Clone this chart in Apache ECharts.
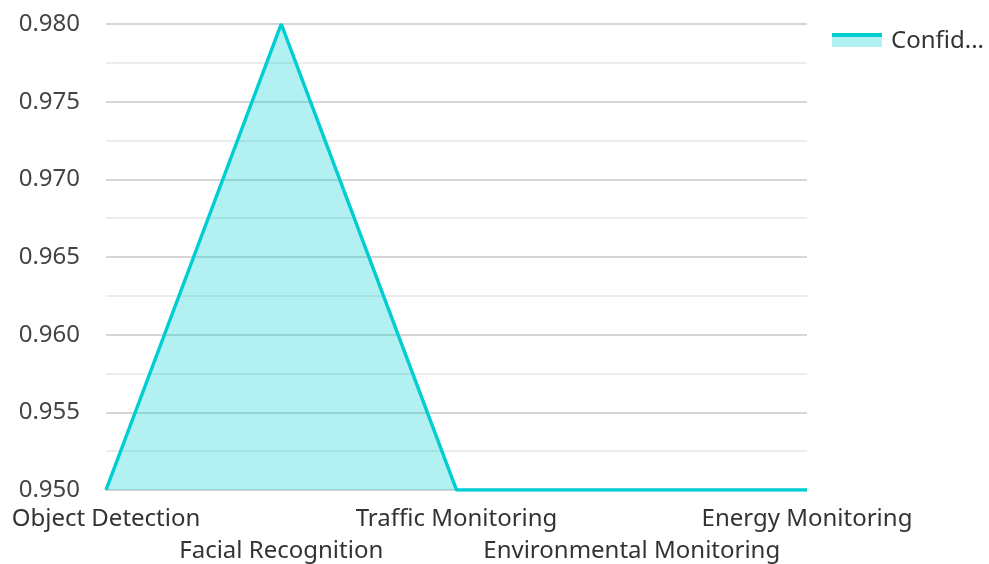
<!DOCTYPE html>
<html>
<head>
<meta charset="utf-8">
<script src="https://cdn.jsdelivr.net/npm/echarts@6/dist/echarts.min.js"></script>
<style>html,body{margin:0;padding:0;background:#fff}#c{width:989px;height:564px}</style>
</head>
<body>
<div id="c"></div>
<script>
const categories = ['Object Detection', 'Facial Recognition', 'Traffic Monitoring', 'Environmental Monitoring', 'Energy Monitoring'];
const seriesName = 'Confidence Score';
const values = [0.95, 0.98, 0.95, 0.95, 0.95];
const yTicks = { min: 0.95, max: 0.98, interval: 0.005 };

const chart = echarts.init(document.getElementById('c'));
const font = '"Noto Sans", "Open Sans", sans-serif';
const lineColor = '#00CED1';
chart.setOption({
  animation: false,
  grid: { left: 106, right: 182, top: 24, bottom: 74, containLabel: false, outerBoundsMode: 'none' },
  legend: {
    left: 830, top: 24,
    itemWidth: 50, itemHeight: 28, itemGap: 10,
    itemStyle: { opacity: 0 },
    lineStyle: { opacity: 0 },
    textStyle: { fontFamily: font, fontSize: 24, color: '#333', width: 102, overflow: 'truncate' },
    data: [seriesName]
  },
  graphic: [
    { type: 'rect', left: 832, top: 36, shape: { width: 50, height: 11 }, style: { fill: lineColor, opacity: 0.3 }, silent: true },
    { type: 'rect', left: 832, top: 33, shape: { width: 50, height: 4 }, style: { fill: lineColor }, silent: true }
  ],
  xAxis: {
    type: 'category',
    data: categories,
    boundaryGap: false,
    axisLine: { show: false },
    axisTick: { show: false },
    axisLabel: {
      interval: 0,
      fontFamily: font, fontSize: 24, color: '#333', margin: 13, lineHeight: 32,
      formatter: (v, i) => (i % 2 === 1 ? '\n' + v : v)
    }
  },
  yAxis: {
    type: 'value',
    min: yTicks.min, max: yTicks.max, interval: yTicks.interval,
    axisLine: { show: false },
    axisTick: { show: false },
    axisLabel: { fontFamily: font, fontSize: 24, color: '#444', margin: 26, formatter: v => v.toFixed(3) },
    splitLine: { lineStyle: { color: '#c8c8c8', width: 1.5 } },
    minorTick: { show: false, splitNumber: 2 },
    minorSplitLine: { show: true, lineStyle: { color: '#e6e6e6', width: 1.5 } }
  },
  series: [{
    name: seriesName,
    type: 'line',
    data: values,
    symbol: 'none',
    lineStyle: { color: lineColor, width: 3.5 },
    itemStyle: { color: lineColor },
    areaStyle: { color: lineColor, opacity: 0.3 }
  }]
});
</script>
</body>
</html>
